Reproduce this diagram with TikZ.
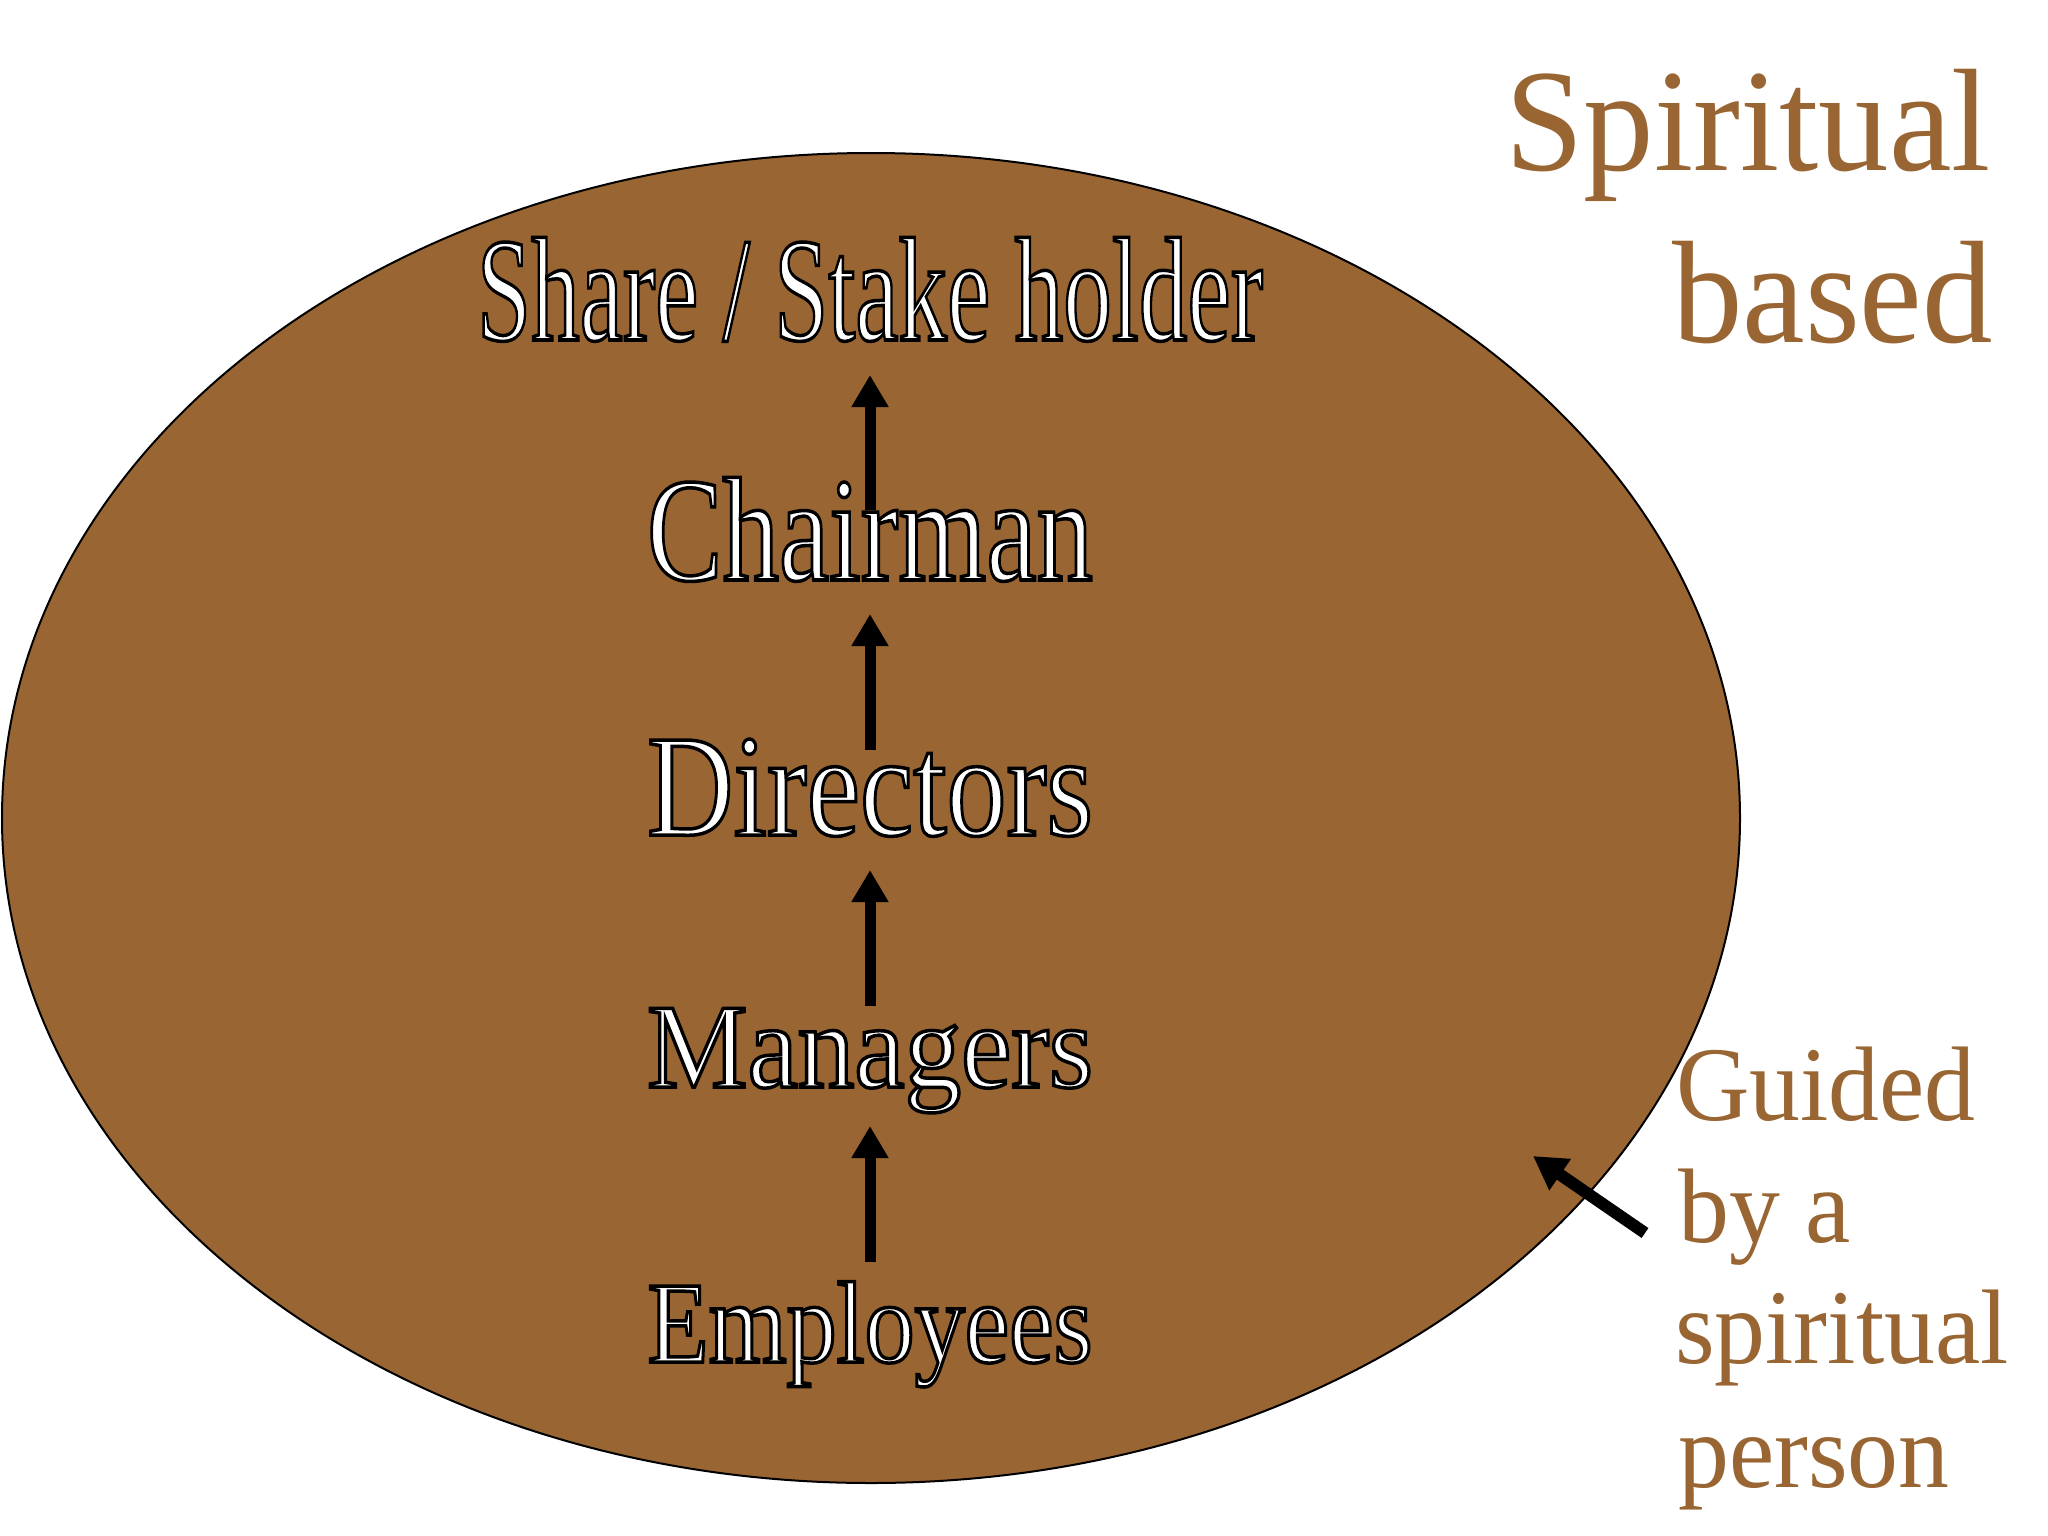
\documentclass[tikz,border=0pt]{standalone}
\usepackage{fontspec}
\setmainfont{Liberation Serif}
\usetikzlibrary{arrows.meta,calc}
\definecolor{earth}{HTML}{996633}
\newcommand{\outltext}[1]{{\color{white}\special{pdf:literal direct 0 0 0 RG 3.5 w 2 Tr}#1\special{pdf:literal direct 0 Tr}}}
\newcommand{\fitw}[3]{\resizebox{#1pt}{\height}{\fontsize{#2}{#2}\selectfont\outltext{#3}}}
\begin{document}
\begin{tikzpicture}[x=1pt,y=-1pt,
  lvl/.style={inner sep=0pt, anchor=base},
  sidebig/.style={inner sep=0pt, text=earth, anchor=base east, font=\fontsize{146}{146}\selectfont},
  sidesmall/.style={inner sep=0pt, text=earth, anchor=base west, font=\fontsize{106}{106}\selectfont},
  uparrow/.style={line width=11pt, -{Triangle[length=32pt,width=35pt]}},
  guidearrow/.style={line width=12pt, -{Triangle[length=33pt,width=36pt]}}]
\useasboundingbox (0,0) rectangle (2048,1536);
\fill[white] (0,0) rectangle (2048,1536);
\draw[fill=earth, line width=2pt] (871,818) ellipse [x radius=869, y radius=665];
% level nodes
\node[lvl] (share) at (870,340) {\fitw{786}{148}{Share / Stake holder}};
\node[lvl] (chair) at (870,580) {\fitw{446}{148}{Chairman}};
\node[lvl] (dir) at (870,835) {\fitw{446}{145}{Directors}};
\node[lvl] (mgr) at (870,1087) {\fitw{446}{120}{Managers}};
\node[lvl] (emp) at (870,1362) {\fitw{445}{116}{Employees}};
% arrows
\draw[uparrow] ($(chair.base)+(0,-70)$) -- ($(share.base)+(0,35)$);
\draw[uparrow] ($(dir.base)+(0,-85)$) -- ($(chair.base)+(0,34)$);
\draw[uparrow] ($(mgr.base)+(0,-81)$) -- ($(dir.base)+(0,35)$);
\draw[uparrow] ($(emp.base)+(0,-100)$) -- ($(mgr.base)+(0,39)$);
\coordinate (gtail) at (1645,1233);
\coordinate (gtip) at (1533,1156);
\draw[guidearrow] (gtail) -- (gtip);
% side texts
\node[sidebig] (sp1) at (1991,170) {\scalebox{0.965}[1]{Spiritual}};
\node[sidebig] (sp2) at (1993,342) {\scalebox{0.965}[1]{based}};
\node[sidesmall] (g1) at (1676,1120) {\scalebox{0.96}[1]{Guided}};
\node[sidesmall] (g2) at (1678,1242) {\scalebox{0.96}[1]{by a}};
\node[sidesmall] (g3) at (1675,1363) {\scalebox{0.96}[1]{spiritual}};
\node[sidesmall] (g4) at (1678,1487) {\scalebox{0.96}[1]{person}};
\end{tikzpicture}
\end{document}
